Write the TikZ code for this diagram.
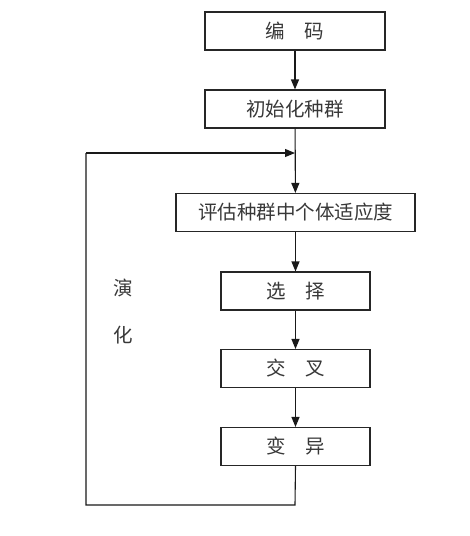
\documentclass[tikz,border=0pt]{standalone}
\usepackage{fontspec}
\newfontfamily\cjk{Noto Sans CJK SC}
\usetikzlibrary{arrows.meta}
\begin{document}
\begin{tikzpicture}[x=1pt,y=-1pt,
  box/.style={draw=black!85,line width=1.1pt,minimum height=38pt,inner sep=0pt,
    font=\cjk\fontsize{19.5}{21}\selectfont,text=black!78},
  flow/.style={draw=black!90,line width=1.1pt,-{Triangle[width=8pt,length=10pt]}},
  plain/.style={draw=black!90,line width=1.1pt},
  lbl/.style={font=\cjk\fontsize{19.5}{21}\selectfont,text=black!78,inner sep=0pt}]
\useasboundingbox (0,0) rectangle (470,536);
\node[box,minimum width=180pt] (b1) at (295,31) {编　码};
\node[box,minimum width=180pt] (b2) at (295,109) {初始化种群};
\node[box,minimum width=239pt] (b3) at (295.5,212.5) {评估种群中个体适应度};
\node[box,minimum width=149pt] (b4) at (295.5,291) {选　择};
\node[box,minimum width=149pt] (b5) at (295.5,368.5) {交　叉};
\node[box,minimum width=149pt] (b6) at (295.5,446.5) {变　异};
\coordinate (j) at (295,153);
\coordinate (bl) at (86,505);
\coordinate (tl) at (86,153);
\coordinate (br) at (295,505);
\node[lbl] (t1) at (123,288) {演};
\node[lbl] (t2) at (123,335) {化};
\draw[flow] (b1) -- (b2);
\draw[flow] (b2) -- (b3);
\draw[flow] (b3) -- (b4);
\draw[flow] (b4) -- (b5);
\draw[flow] (b5) -- (b6);
\draw[plain] (b6.south) -- (br) -- (bl) -- (tl);
\draw[flow] (tl) -- (j);
\end{tikzpicture}
\end{document}
